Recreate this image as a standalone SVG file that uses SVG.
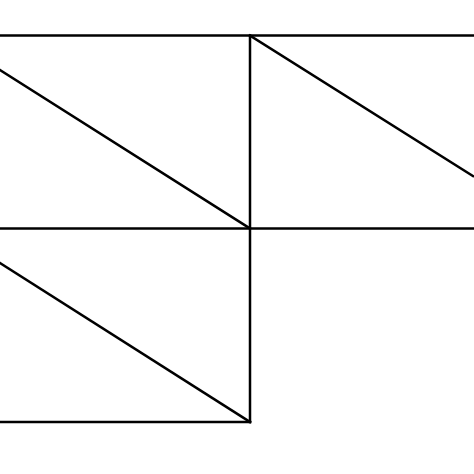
<svg xmlns="http://www.w3.org/2000/svg" width="474" height="474" viewBox="0 0 474 474">
<style>line{stroke:#000;stroke-width:2.5;stroke-linecap:square}</style>
<rect width="474" height="474" fill="#fff"/>
<g id="grid">
<line x1="0" y1="35.5" x2="474" y2="35.5"/>
<line x1="0" y1="228.5" x2="474" y2="228.5"/>
<line x1="0" y1="422" x2="250" y2="422"/>
<line x1="250" y1="35.5" x2="250" y2="422"/>
</g>
<g id="diagonals">
<line x1="0" y1="70" x2="250" y2="228.5"/>
<line x1="250" y1="35.5" x2="473" y2="176"/>
<line x1="0" y1="263" x2="250" y2="422"/>
</g>
</svg>
